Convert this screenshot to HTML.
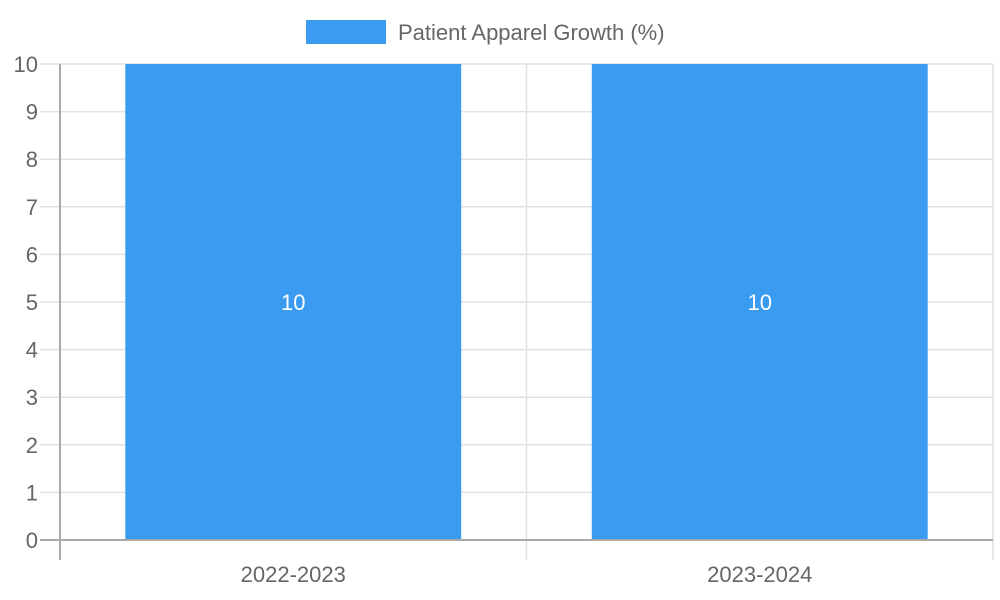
<!DOCTYPE html>
<html><head><meta charset="utf-8"><style>
html,body{margin:0;padding:0;background:#fff;width:1000px;height:600px;overflow:hidden}
svg{display:block;font-family:"Liberation Sans",sans-serif}
</style></head><body>
<svg id="chart" width="1000" height="600">
  <g>
    <rect x="306" y="20" width="80" height="24" fill="#3a9bf1"/>
    <text x="398" y="40" font-size="22" fill="#666">Patient Apparel Growth (%)</text>
  </g>
  <g id="grid"></g>
  <g id="bars"></g>
  <g id="axes"></g>
</svg>
<script>
const categories = ["2022-2023", "2023-2024"];
const values = [10, 10];
const yTicks = [0,1,2,3,4,5,6,7,8,9,10];
const NS = "http://www.w3.org/2000/svg";
const L = 60, R = 993, T = 64, B = 540, yMax = 10;
const y = v => B - (v / yMax) * (B - T);
const bw = (R - L) / categories.length;
const x = i => L + i * bw;
function mk(tag, attrs, parent) {
  const e = document.createElementNS(NS, tag);
  for (const k in attrs) e.setAttribute(k, attrs[k]);
  parent.appendChild(e);
  return e;
}
const grid = document.getElementById('grid'), bars = document.getElementById('bars'), axes = document.getElementById('axes');
yTicks.forEach(t => {
  const l = mk('line', {x1: 40, x2: R, y1: y(t), y2: y(t), stroke: t === 0 ? '#aaa' : '#e2e2e2', 'stroke-width': t === 0 ? 2 : 1.5}, t === 0 ? axes : grid);
  
  
  const tx = mk('text', {x: 38, y: y(t) + 8, 'text-anchor': 'end', 'font-size': 22, fill: '#666'}, axes);
  tx.textContent = t;
  
  
});
for (let i = 1; i <= categories.length; i++) {
  const l = mk('line', {x1: x(i), x2: x(i), y1: T, y2: 560, stroke: '#e2e2e2', 'stroke-width': 1.5}, grid);
  
  
}
const ya = mk('line', {x1: L, x2: L, y1: T, y2: 560, stroke: '#aaa', 'stroke-width': 2}, axes);


categories.forEach((c, i) => {
  const w = bw * 0.72, cx = x(i) + bw / 2;
  const r = mk('rect', {x: cx - w / 2, y: y(values[i]), width: w, height: B - y(values[i]), fill: '#3a9bf1'}, bars);
  
  
  const v = mk('text', {x: cx, y: (y(values[i]) + B) / 2 + 8, 'text-anchor': 'middle', 'font-size': 22, fill: '#fff'}, bars);
  v.textContent = values[i];
  
  
  const xl = mk('text', {x: cx, y: 582, 'text-anchor': 'middle', 'font-size': 22, fill: '#666'}, axes);
  xl.textContent = c;
  
  
});
</script>
</body></html>
